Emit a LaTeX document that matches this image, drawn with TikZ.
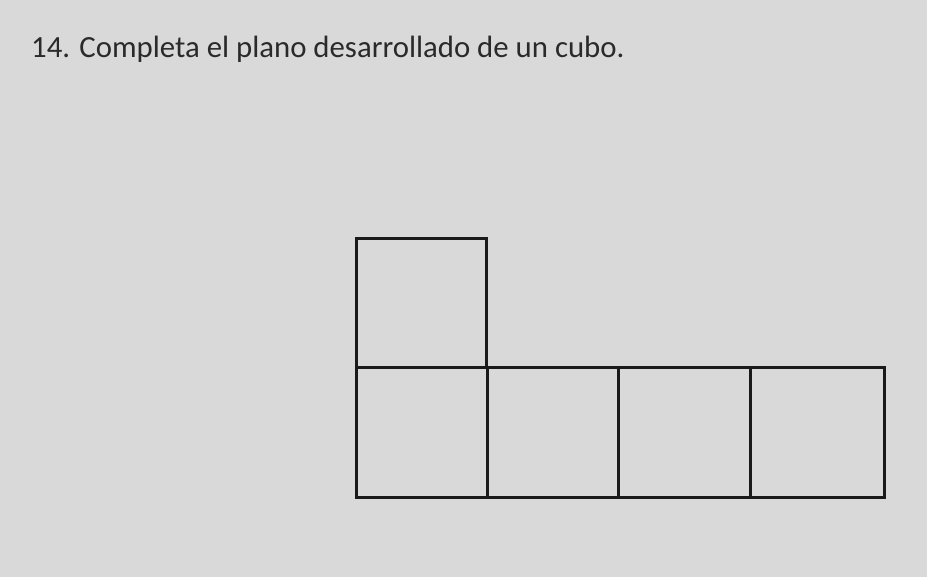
\documentclass[tikz,border=0pt]{standalone}
\usepackage{fontspec}
\setmainfont{Carlito}
\definecolor{paper}{HTML}{D9D9D9}
\definecolor{ink}{HTML}{1A1A1A}
\definecolor{txt}{HTML}{2A2A2A}
\begin{document}
\begin{tikzpicture}[x=1pt,y=-1pt,
  face/.style={draw=ink,line width=3pt,line join=miter}]
\fill[paper] (0,0) rectangle (927,577);
\useasboundingbox (0,0) rectangle (927,577);
\node[anchor=base west,inner sep=0pt,text=txt,font=\fontsize{30.8}{36}\selectfont] (title) at (31,58) {14. Completa el plano desarrollado de un cubo.};
% top face
\coordinate (t1) at (356,239);
\coordinate (t2) at (486,368);
\draw[face] (t1) rectangle (t2);
% bottom row
\coordinate (b0) at (356,368);
\coordinate (b1) at (487,497);
\coordinate (b2) at (618,368);
\coordinate (b3) at (750,497);
\coordinate (b4) at (884,368);
\draw[face] (b0) rectangle (b4 |- b1);
\draw[face] (b1) -- (b1 |- b0);
\draw[face] (b2) -- (b2 |- b1);
\draw[face] (b3) -- (b3 |- b0);
\end{tikzpicture}
\end{document}
